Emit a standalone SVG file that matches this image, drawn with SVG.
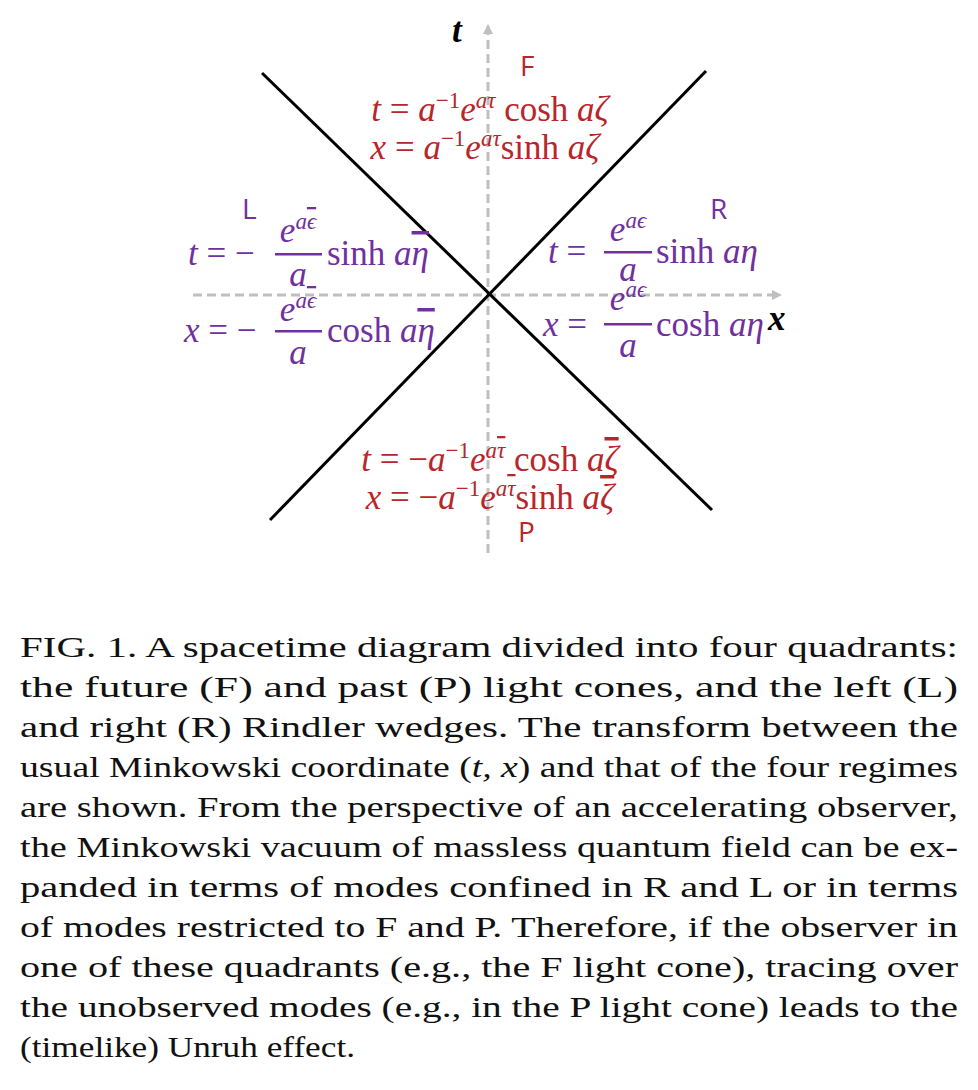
<svg xmlns="http://www.w3.org/2000/svg" width="978" height="1090" viewBox="0 0 978 1090">
<style>
.m{font-family:"Liberation Serif",serif;font-size:35px}
.i{font-style:italic}
.o{text-decoration:overline}
.r{fill:#b8262a}.p{fill:#7030a0}
.lab{font-family:"Open Sans","Liberation Sans",sans-serif;font-size:28px}
.cap{font-family:"Liberation Serif",serif;font-size:29px;fill:#111}
.sup{font-size:23px}
</style>
<defs><marker id="ar" markerWidth="10" markerHeight="10" refX="8" refY="5" orient="auto" markerUnits="userSpaceOnUse"><path d="M0,0L10,5L0,10Z" fill="#bfbfbf"/></marker></defs>
<rect width="978" height="1090" fill="#fff"/>
<g id="axes" stroke="#bfbfbf" stroke-width="3" stroke-dasharray="9,5" fill="none">
<line x1="193" y1="295" x2="780" y2="295" marker-end="url(#ar)"/>
<line x1="488" y1="553" x2="488" y2="26" marker-end="url(#ar)"/>
</g>
<g id="connectors" stroke="#000" stroke-width="3">
<line x1="262" y1="73" x2="712" y2="510"/>
<line x1="706" y1="71" x2="270" y2="520"/>
</g>
<g id="axislabels" class="m i" fill="#000" font-size="38" font-weight="bold">
<text x="452" y="42">t</text><text x="768" y="330">x</text>
</g>
<g id="F" class="r">
<text class="lab" x="520" y="76">F</text>
<text class="m" x="490" y="121" text-anchor="middle"><tspan class="i">t</tspan> = <tspan class="i">a</tspan><tspan class="sup" dy="-13">−1</tspan><tspan class="i" dy="13">e</tspan><tspan class="sup i" dy="-13">aτ</tspan><tspan dy="13"> cosh </tspan><tspan class="i">aζ</tspan></text>
<text class="m" x="485" y="159" text-anchor="middle"><tspan class="i">x</tspan> = <tspan class="i">a</tspan><tspan class="sup" dy="-13">−1</tspan><tspan class="i" dy="13">e</tspan><tspan class="sup i" dy="-13">aτ</tspan><tspan dy="13">sinh </tspan><tspan class="i">aζ</tspan></text>
</g>
<g id="P" class="r">
<text class="lab" x="518" y="542">P</text>
<text class="m" x="490" y="471" text-anchor="middle"><tspan class="i">t</tspan> = −<tspan class="i">a</tspan><tspan class="sup" dy="-13">−1</tspan><tspan class="i" dy="13">e</tspan><tspan class="sup i" dy="-13">a<tspan class="o">τ</tspan></tspan><tspan dy="13"> cosh </tspan><tspan class="i">a<tspan class="o">ζ</tspan></tspan></text>
<text class="m" x="490" y="509" text-anchor="middle"><tspan class="i">x</tspan> = −<tspan class="i">a</tspan><tspan class="sup" dy="-13">−1</tspan><tspan class="i" dy="13">e</tspan><tspan class="sup i" dy="-13">a<tspan class="o">τ</tspan></tspan><tspan dy="13">sinh </tspan><tspan class="i">a<tspan class="o">ζ</tspan></tspan></text>
</g>
<g id="L" class="p">
<text class="lab" x="242" y="219">L</text>
<text class="m" x="188" y="265"><tspan class="i">t</tspan> = −</text>
<text class="m i" x="298" y="242" text-anchor="middle">e<tspan class="sup" dy="-13">a<tspan class="o">ϵ</tspan></tspan></text>
<rect x="275" y="253" width="47" height="2.5" fill="#7030a0"/>
<text class="m i" x="298" y="286" text-anchor="middle">a</text>
<text class="m" x="327" y="265">sinh <tspan class="i">a<tspan class="o">η</tspan></tspan></text>
<text class="m" x="184" y="342"><tspan class="i">x</tspan> = −</text>
<text class="m i" x="298" y="321" text-anchor="middle">e<tspan class="sup" dy="-13">a<tspan class="o">ϵ</tspan></tspan></text>
<rect x="275" y="330" width="47" height="2.5" fill="#7030a0"/>
<text class="m i" x="298" y="364" text-anchor="middle">a</text>
<text class="m" x="327" y="342">cosh <tspan class="i">a<tspan class="o">η</tspan></tspan></text>
</g>
<g id="R" class="p">
<text class="lab" x="710" y="219">R</text>
<text class="m" x="548" y="263"><tspan class="i">t</tspan> =</text>
<text class="m i" x="628" y="241" text-anchor="middle">e<tspan class="sup" dy="-13">aϵ</tspan></text>
<rect x="604" y="251" width="48" height="2.5" fill="#7030a0"/>
<text class="m i" x="628" y="281" text-anchor="middle">a</text>
<text class="m" x="656" y="263">sinh <tspan class="i">aη</tspan></text>
<text class="m" x="543" y="336"><tspan class="i">x</tspan> =</text>
<text class="m i" x="628" y="310" text-anchor="middle">e<tspan class="sup" dy="-13">aϵ</tspan></text>
<rect x="604" y="323" width="48" height="2.5" fill="#7030a0"/>
<text class="m i" x="628" y="357" text-anchor="middle">a</text>
<text class="m" x="656" y="336">cosh <tspan class="i">aη</tspan></text>
</g>
<g id="caption" class="cap">
<text x="20" y="657" textLength="938" lengthAdjust="spacingAndGlyphs">FIG. 1.  A spacetime diagram divided into four quadrants:</text>
<text x="20" y="697" textLength="938" lengthAdjust="spacingAndGlyphs">the future (F) and past (P) light cones, and the left (L)</text>
<text x="20" y="737" textLength="938" lengthAdjust="spacingAndGlyphs">and right (R) Rindler wedges.  The transform between the</text>
<text x="20" y="777" textLength="938" lengthAdjust="spacingAndGlyphs">usual Minkowski coordinate (<tspan font-style="italic">t, x</tspan>) and that of the four regimes</text>
<text x="20" y="817" textLength="938" lengthAdjust="spacingAndGlyphs">are shown. From the perspective of an accelerating observer,</text>
<text x="20" y="857" textLength="938" lengthAdjust="spacingAndGlyphs">the Minkowski vacuum of massless quantum field can be ex-</text>
<text x="20" y="897" textLength="938" lengthAdjust="spacingAndGlyphs">panded in terms of modes confined in R and L or in terms</text>
<text x="20" y="937" textLength="938" lengthAdjust="spacingAndGlyphs">of modes restricted to F and P. Therefore, if the observer in</text>
<text x="20" y="977" textLength="938" lengthAdjust="spacingAndGlyphs">one of these quadrants (e.g., the F light cone), tracing over</text>
<text x="20" y="1017" textLength="938" lengthAdjust="spacingAndGlyphs">the unobserved modes (e.g., in the P light cone) leads to the</text>
<text x="20" y="1057" textLength="335" lengthAdjust="spacingAndGlyphs">(timelike) Unruh effect.</text>
</g>
</svg>
